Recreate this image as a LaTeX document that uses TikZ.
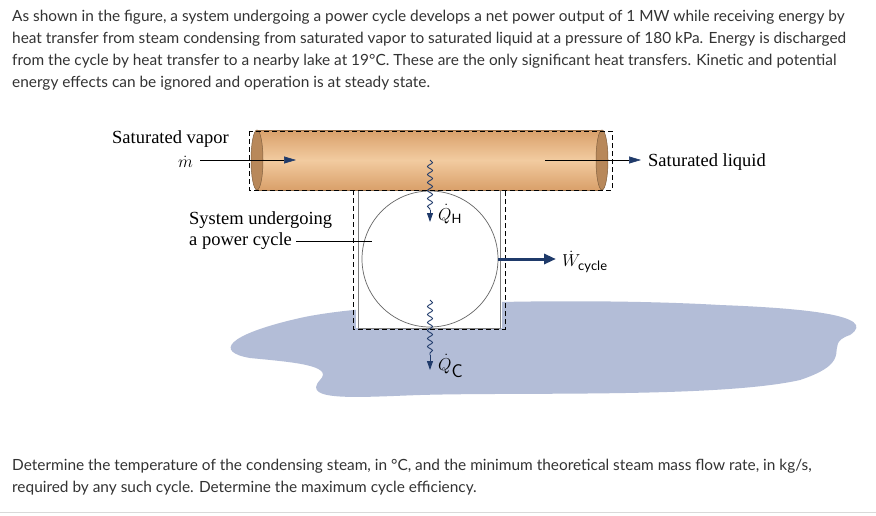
\documentclass[tikz,border=0pt]{standalone}
\usepackage{fontspec}
\setmainfont{Lato}
\newfontfamily\figfont{Liberation Serif}
\usetikzlibrary{arrows.meta,decorations.pathmorphing,shadings}
\definecolor{navy}{HTML}{1F3A6A}
\definecolor{lake}{HTML}{B3BDD7}
\definecolor{pipe}{HTML}{D9A06A}
\definecolor{pipelt}{HTML}{F2CBA0}
\definecolor{txt}{HTML}{333333}
\begin{document}
\begin{tikzpicture}[x=1pt,y=-1pt,
  para/.style={anchor=west,inner sep=0pt,text=txt,font=\fontsize{15.4}{22}\selectfont},
  fig/.style={inner sep=0pt,font=\figfont\fontsize{18.5}{21}\selectfont},
  dbox/.style={draw=black,dashed,line width=0.7pt,dash pattern=on 5pt off 3pt},
  wave/.style={navy,line width=0.9pt,decorate,decoration={snake,amplitude=2.5pt,segment length=8pt}},
  arr/.style={navy,line width=0.9pt,-{Triangle[length=9pt,width=6pt]}},
  thinarr/.style={black,line width=0.6pt,-{Triangle[length=12pt,width=7pt,color=navy]}}]
\useasboundingbox (0,0) rectangle (876,515);
\fill[white] (0,0) rectangle (876,515);
% text
\node[para] (t1) at (12,17) {As shown in the figure, a system undergoing a power cycle develops a net power output of 1 MW while receiving energy by};
\node[para] (t2) at (12,39) {heat transfer from steam condensing from saturated vapor to saturated liquid at a pressure of 180 kPa. Energy is discharged};
\node[para] (t3) at (12,61) {from the cycle by heat transfer to a nearby lake at 19°C. These are the only significant heat transfers. Kinetic and potential};
\node[para] (t4) at (12,83) {energy effects can be ignored and operation is at steady state.};
\node[para] (b1) at (12,466) {Determine the temperature of the condensing steam, in °C, and the minimum theoretical steam mass flow rate, in kg/s,};
\node[para] (b2) at (12,488) {required by any such cycle. Determine the maximum cycle efficiency.};
\draw[gray!30] (0,512) -- (876,512);
% lake
\fill[lake] (300,318) .. controls (380,300) and (600,298) .. (720,305)
  .. controls (800,308) and (880,315) .. (850,335)
  .. controls (820,345) and (860,360) .. (800,380)
  .. controls (720,398) and (520,392) .. (420,395)
  .. controls (360,397) and (300,402) .. (320,380)
  .. controls (335,365) and (290,362) .. (250,358)
  .. controls (215,352) and (225,335) .. (300,318) -- cycle;
% system
\fill[white] (356,190) rectangle (502,328);
\draw[gray,line width=0.8pt] (358,190) rectangle (500,328);
\draw[dbox] (353,190) -- (353,329) -- (505,329) -- (505,190);
\node[circle,draw=gray!80!black,line width=0.7pt,fill=white,minimum size=136pt,inner sep=0pt] (cyc) at (430,259) {};
% pipe
\shade[top color=pipe,bottom color=pipe,middle color=pipelt] (257,130) rectangle (602,190);
\draw[pipe!70!black,line width=0.5pt] (257,130) -- (602,130) (257,190) -- (602,190);
\fill[pipe!85!black] (257,160) ellipse (6 and 30);
\draw[pipe!60!black,line width=0.5pt] (257,160) ellipse (6 and 30);
\fill[pipe!85!black] (602,160) ellipse (6 and 30);
\draw[pipe!60!black,line width=0.5pt] (602,160) ellipse (6 and 30);
\draw[dbox] (249,131) rectangle (612,190);
% flows
\coordinate (min) at (200,160);
\coordinate (mtip) at (296,160);
\draw[thinarr] (min) -- (mtip);
\coordinate (lout) at (545,160);
\coordinate (ltip) at (641,160);
\draw[thinarr] (lout) -- (ltip);
\node[fig,anchor=west] (sv) at (112,139) {Saturated vapor};
\node[fig,anchor=east] (md) at (193,162) {$\dot m$};
\node[fig,anchor=west] (sl) at (648,162) {Saturated liquid};
\node[fig,align=left,anchor=west] (sys) at (189,231) {System undergoing\\a power cycle};
\coordinate (lead) at (296,241);
\coordinate (leadend) at (372,241);
\draw[black,line width=0.6pt] (lead) -- (leadend);
% heat
\coordinate (qh0) at (430,160);
\coordinate (qh1) at (430,210);
\draw[wave] (qh0) -- (qh1);
\coordinate (qh2) at (430,222);
\draw[arr] (qh1) -- (qh2);
\node[fig,anchor=west] (qh) at (438,214) {$\dot Q_{\mathrm H}$};
\coordinate (qc0) at (430,300);
\coordinate (qc1) at (430,355);
\draw[wave] (qc0) -- (qc1);
\coordinate (qc2) at (430,370);
\draw[arr] (qc1) -- (qc2);
\node[fig,anchor=west] (qc) at (438,366) {$\dot Q_{\textsf{C}}$};
% work
\coordinate (w0) at (498,259);
\coordinate (w1) at (556,259);
\draw[navy,line width=3pt,-{Triangle[length=12pt,width=10pt]}] (w0) -- (w1);
\node[fig,anchor=west] (wc) at (562,262) {$\dot W_{\mathrm{cycle}}$};
\end{tikzpicture}
\end{document}
